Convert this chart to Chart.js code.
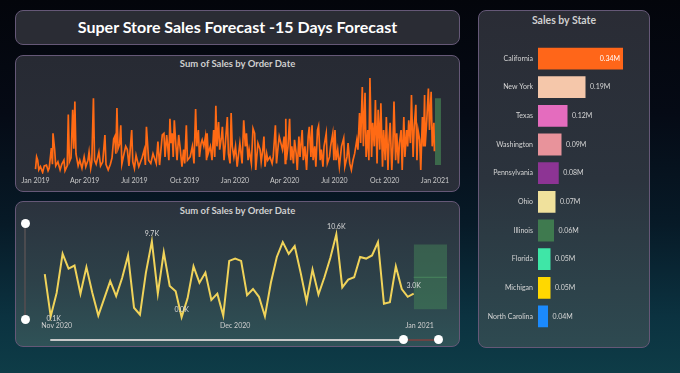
<!DOCTYPE html>
<html><head><meta charset="utf-8">
<script src="https://cdn.jsdelivr.net/npm/chart.js@4.4.1/dist/chart.umd.min.js"></script>
<style>
html,body{margin:0;padding:0;width:680px;height:373px;overflow:hidden;}
body{position:relative;background:linear-gradient(180deg,#03050b 0%,#050a15 30%,#071a27 60%,#0b3240 85%,#0e3c47 100%);font-family:Lato,"Open Sans",sans-serif;}
.panel{position:absolute;box-sizing:border-box;border:1px solid #655877;border-radius:8px;}
.ptitle{position:absolute;left:0;right:0;text-align:center;color:#cfcfcf;font-weight:700;font-size:9.5px;white-space:nowrap;}
canvas{position:absolute;}
.dot{position:absolute;width:9px;height:9px;border-radius:50%;background:#fff;}
</style></head>
<body>
<div class="panel" style="left:15px;top:10px;width:445px;height:35px;background:#2a2c34;">
  <div style="position:absolute;left:0;right:0;top:6px;text-align:center;color:#fff;font-weight:700;font-size:16px;white-space:nowrap;">Super Store Sales Forecast -15 Days Forecast</div>
</div>
<div class="panel" style="left:15px;top:55px;width:445px;height:137px;background:linear-gradient(180deg,#272a33,#2a2f39);">
  <div class="ptitle" style="top:2px;">Sum of Sales by Order Date</div>
</div>
<div class="panel" style="left:15px;top:201px;width:445px;height:146px;background:linear-gradient(180deg,#2b323d 0%,#2d4149 55%,#2f5257 100%);">
  <div class="ptitle" style="top:3px;">Sum of Sales by Order Date</div>
</div>
<div class="panel" style="left:478px;top:10px;width:172px;height:338px;background:linear-gradient(180deg,#2a2c35 0%,#2b333d 50%,#2e4a51 100%);">
  <div class="ptitle" style="top:3px;font-size:10.5px;">Sales by State</div>
</div>
<canvas id="c1" width="444" height="120" style="left:15px;top:70px;"></canvas>
<canvas id="c2" width="444" height="120" style="left:15px;top:215px;"></canvas>
<canvas id="c3" width="172" height="305" style="left:478px;top:35px;"></canvas>
<!-- slicer widgets -->
<div style="position:absolute;left:24px;top:223px;width:2px;height:97px;background:#4b4b4f;"></div>
<div class="dot" style="left:20.5px;top:218.5px;"></div>
<div class="dot" style="left:20.5px;top:315px;"></div>
<div style="position:absolute;left:50px;top:338.5px;width:353px;height:2.5px;background:#c9c9c9;border-radius:1px;"></div>
<div style="position:absolute;left:403px;top:339px;width:35px;height:1.5px;background:#6a4444;"></div>
<div class="dot" style="left:398.5px;top:335px;"></div>
<div class="dot" style="left:433.5px;top:335px;"></div>
<script>
// ---------- Top chart: daily sales (K) by day offset from 1 Jan 2019 ----------
const topDays = [0,2,4,6,9,13,16,20,23,25,29,31,32,35,37,41,45,48,52,54,58,60,62,65,68,70,72,74,78,81,85,89,92,96,98,101,103,106,108,111,116,119,123,127,129,133,137,140,143,145,147,149,151,154,156,158,162,165,168,171,176,178,181,
184,189,195,199,201,203,207,211,215,221,224,227,232,235,237,240,242,244,246,248,250,252,254,257,259,262,265,268,271,273,276,278,283,287,290,293,295,298,300,303,305,308,311,313,314,316,320,323,326,328,330,332,335,337,340,342,345,347,351,353,356,358,360,
363,366,369,374,378,381,384,386,389,391,395,398,401,403,407,411,413,416,418,420,423,425,429,433,435,439,441,444,446,449,452,455,457,458,459,462,465,467,469,472,474,477,479,482,484,488,490,493,496,499,501,504,506,508,511,513,516,518,521,523,526,528,532,534,538,540,544,546,
548,550,553,556,560,564,566,570,572,575,578,581,584,588,590,593,595,598,600,603,605,608,610,612,615,617,620,622,625,627,630,632,635,637,640,642,645,647,649,652,654,656,659,661,664,666,669,671,674,676,679,681,683,686,688,691,693,696,698,700,703,705,708,710,712,713,716,719,721,724,726,729,730];
const topSales = [0.6,2.1,1.7,0.5,0.9,0.2,1.0,1.1,0.4,0.7,3.2,1.2,5.0,3.0,1.0,1.5,0.5,1.2,1.7,0.4,1.0,7.3,1.5,2.0,7.9,3.1,8.9,2.5,1.0,1.7,0.7,2.1,0.9,1.7,2.7,0.7,1.5,9.3,1.7,1.2,2.7,1.0,1.5,4.8,1.2,0.5,1.2,2.0,4.3,4.6,2.5,8.1,3.1,3.7,6.0,1.2,2.5,3.4,3.0,1.0,5.4,1.5,0.7,
2.3,0.9,2.0,3.0,1.1,5.8,1.7,1.3,2.5,1.3,4.0,1.1,4.8,5.0,2.1,4.8,3.4,1.7,6.8,3.8,5.0,2.1,6.6,3.4,1.7,4.8,3.0,0.9,3.0,1.3,6.0,1.7,2.1,3.4,1.3,8.0,3.4,5.4,2.1,3.8,4.2,3.4,4.6,1.7,5.0,2.5,3.4,1.7,5.4,2.1,8.4,3.4,6.4,3.0,4.4,5.8,1.7,3.4,7.0,2.5,1.3,7.5,3.4,
2.1,3.4,0.9,3.8,1.3,6.6,3.4,5.0,1.7,3.0,1.3,5.6,5.0,0.5,3.8,3.0,1.5,3.0,4.6,0.9,2.5,1.7,2.1,1.3,2.1,6.0,1.3,3.4,4.6,3.8,3.0,4.6,1.3,6.8,1.7,3.4,6.8,1.7,3.4,1.3,4.2,2.5,0.5,4.6,2.1,5.4,1.7,3.4,0.5,4.6,5.8,2.1,6.0,1.7,3.4,0.9,5.4,5.9,1.7,3.0,0.9,3.4,5.0,1.3,2.1,3.4,5.0,1.7,
5.4,1.7,3.0,0.9,3.4,4.4,0.9,2.1,3.8,1.3,0.5,1.7,2.5,4.2,3.0,7.5,3.8,10.7,3.4,10.0,2.1,5.4,1.7,11.8,2.1,6.3,3.4,9.1,1.3,7.9,3.0,8.7,0.9,5.4,1.7,7.0,0.5,4.2,6.3,0.5,3.4,8.9,1.7,5.0,1.3,3.8,5.4,0.5,7.0,2.1,5.4,3.4,6.6,3.8,9.7,2.1,5.8,8.5,1.7,5.4,4.2,0.5,7.0,3.4,9.7,3.4,6.6,10.5,5.4,10.1,3.4,6.3,2.8];
const topForecastDays = [731, 742];
const topForecastHigh = [9.3, 9.3];
const topForecastLow = [1.1, 1.1];
const topTickDays = [0,90,181,273,365,456,547,639,731];
const topTickLabels = ['Jan 2019','Apr 2019','Jul 2019','Oct 2019','Jan 2020','Apr 2020','Jul 2020','Oct 2020','Jan 2021'];

// ---------- Bottom chart: daily sales (K), 30 Oct 2020 .. 31 Dec 2020 ----------
const bottomSales = [5.5,0.1,3.1,8.1,6.2,6.6,3.0,6.4,3.1,0.2,2.4,4.6,2.7,5.0,7.9,1.2,0.3,5.7,9.7,3.0,8.3,4.0,3.3,0.0,2.4,6.5,4.4,5.7,2.2,3.0,0.2,7.2,7.5,7.2,2.8,3.6,2.6,0.1,4.4,7.7,9.6,8.1,9.1,5.7,2.0,6.1,2.9,5.1,7.6,10.6,3.8,4.8,5.1,7.7,7.5,7.9,9.6,1.7,1.9,6.5,3.6,2.6,3.0];
const bottomLabelIdx = [1,18,23,49,62];
const bottomForecastIdx = [62, 67.6];
const bottomForecastHigh = [9.3, 9.3];
const bottomForecastMid = [5.1, 5.1];
const bottomForecastLow = [1.0, 1.0];
const bottomTickIdx = [2,32,63];
const bottomTickLabels = ['Nov 2020','Dec 2020','Jan 2021'];

// ---------- Right chart: Sales by State (M) ----------
const states = ['California','New York','Texas','Washington','Pennsylvania','Ohio','Illinois','Florida','Michigan','North Carolina'];
const stateSales = [0.340,0.190,0.118,0.094,0.083,0.070,0.064,0.050,0.050,0.040];
const stateColors = ['#FF6619','#F5C7AA','#E46CBE','#E8939B','#8D3494','#F0E19C','#3F7A4F','#3FE6A7','#FFD800','#1B8AFD'];

Chart.defaults.font.family = 'Lato, "Open Sans", sans-serif';
Chart.defaults.color = '#c9c9c9';
Chart.defaults.animation = false;

const pts = (xs, ys) => xs.map((x,i)=>({x:x, y:ys[i]}));

new Chart(document.getElementById('c1'), {
  type:'line',
  data:{datasets:[
    {data:pts(topDays, topSales), borderColor:'#FF6A14', borderWidth:1.7, pointRadius:0, fill:false, tension:0},
    {data:pts(topForecastDays, topForecastLow), borderWidth:0, borderColor:'rgba(0,0,0,0)', pointRadius:0, fill:false},
    {data:pts(topForecastDays, topForecastHigh), borderWidth:0, borderColor:'rgba(0,0,0,0)', pointRadius:0, fill:'-1', backgroundColor:'#3c694b'}
  ]},
  options:{
    responsive:false, animation:false, events:[],
    layout:{padding:{left:18,right:16,top:6.4,bottom:0}},
    plugins:{legend:{display:false}, tooltip:{enabled:false}},
    scales:{
      x:{type:'linear', min:-4.6, max:745.7, grid:{display:false, drawTicks:false}, border:{display:false},
        afterBuildTicks:s=>{s.ticks = topTickDays.map(v=>({value:v}));},
        afterFit:s=>{s.height = 16;},
        ticks:{padding:3, maxRotation:0, autoSkip:false, font:{size:7}, color:'#c8c8c8',
          callback:(v)=>topTickLabels[topTickDays.indexOf(v)]}},
      y:{display:false, min:0, max:12}
    }
  }
});

const labelPlugin = {
  id:'pointLabels',
  afterDatasetsDraw(chart){
    const ctx = chart.ctx, meta = chart.getDatasetMeta(0);
    ctx.save();
    ctx.font = '7px Lato, "Open Sans", sans-serif';
    ctx.fillStyle = '#d8d8d8';
    ctx.textAlign = 'center';
    ctx.textBaseline = 'bottom';
    bottomLabelIdx.forEach((idx, k)=>{
      const p = meta.data[idx];
      const txt = bottomSales[idx].toFixed(1) + 'K';
      if (k === 0) { ctx.fillText(txt, p.x + 3, p.y + 6); }
      else { ctx.fillText(txt, p.x, p.y - 4); }
    });
    ctx.restore();
  }
};

new Chart(document.getElementById('c2'), {
  type:'line',
  data:{datasets:[
    {data:bottomSales.map((v,i)=>({x:i,y:v})), borderColor:'#F0D35A', borderWidth:2, pointRadius:0, fill:false, tension:0},
    {data:pts(bottomForecastIdx, bottomForecastLow), borderWidth:0, borderColor:'rgba(0,0,0,0)', pointRadius:0, fill:false},
    {data:pts(bottomForecastIdx, bottomForecastHigh), borderWidth:0, borderColor:'rgba(0,0,0,0)', pointRadius:0, fill:'-1', backgroundColor:'rgba(70,140,90,0.45)'},
    {data:pts(bottomForecastIdx, bottomForecastMid), borderWidth:1, borderColor:'rgba(90,170,110,0.6)', pointRadius:0, fill:false}
  ]},
  options:{
    responsive:false, animation:false, events:[],
    layout:{padding:{left:25,right:12,top:10,bottom:0}},
    plugins:{legend:{display:false}, tooltip:{enabled:false}},
    scales:{
      x:{type:'linear', min:-0.8, max:67.6, grid:{display:false, drawTicks:false}, border:{display:false},
        afterBuildTicks:s=>{s.ticks = bottomTickIdx.map(v=>({value:v}));},
        afterFit:s=>{s.height = 14;},
        ticks:{padding:1, maxRotation:0, autoSkip:false, font:{size:7}, color:'#cfcfcf',
          callback:(v)=>bottomTickLabels[bottomTickIdx.indexOf(v)]}},
      y:{display:false, min:-0.5, max:11.8}
    }
  },
  plugins:[labelPlugin]
});

const barLabelPlugin = {
  id:'barLabels',
  afterDatasetsDraw(chart){
    const ctx = chart.ctx, meta = chart.getDatasetMeta(0);
    ctx.save();
    ctx.font = '7px Lato, "Open Sans", sans-serif';
    ctx.textBaseline = 'middle';
    meta.data.forEach((bar, i)=>{
      const txt = stateSales[i].toFixed(2) + 'M';
      if (i === 0) { ctx.textAlign = 'right'; ctx.fillStyle = '#ffffff'; ctx.fillText(txt, bar.x - 3, bar.y); }
      else { ctx.textAlign = 'left'; ctx.fillStyle = '#d6d6d6'; ctx.fillText(txt, bar.x + 4.5, bar.y); }
    });
    ctx.restore();
  }
};

new Chart(document.getElementById('c3'), {
  type:'bar',
  data:{labels:states, datasets:[{data:stateSales, backgroundColor:stateColors, barPercentage:0.76, categoryPercentage:1}]},
  options:{
    indexAxis:'y', responsive:false, animation:false, events:[],
    layout:{padding:{left:0,right:8,top:6,bottom:6}},
    plugins:{legend:{display:false}, tooltip:{enabled:false}},
    scales:{
      x:{display:false, min:0, max:0.416},
      y:{afterFit:s=>{s.width = 60;}, grid:{display:false, drawTicks:false}, border:{display:false},
        ticks:{padding:5, font:{size:7}, color:'#d4d4d4'}}
    }
  },
  plugins:[barLabelPlugin]
});
</script>
</body></html>
